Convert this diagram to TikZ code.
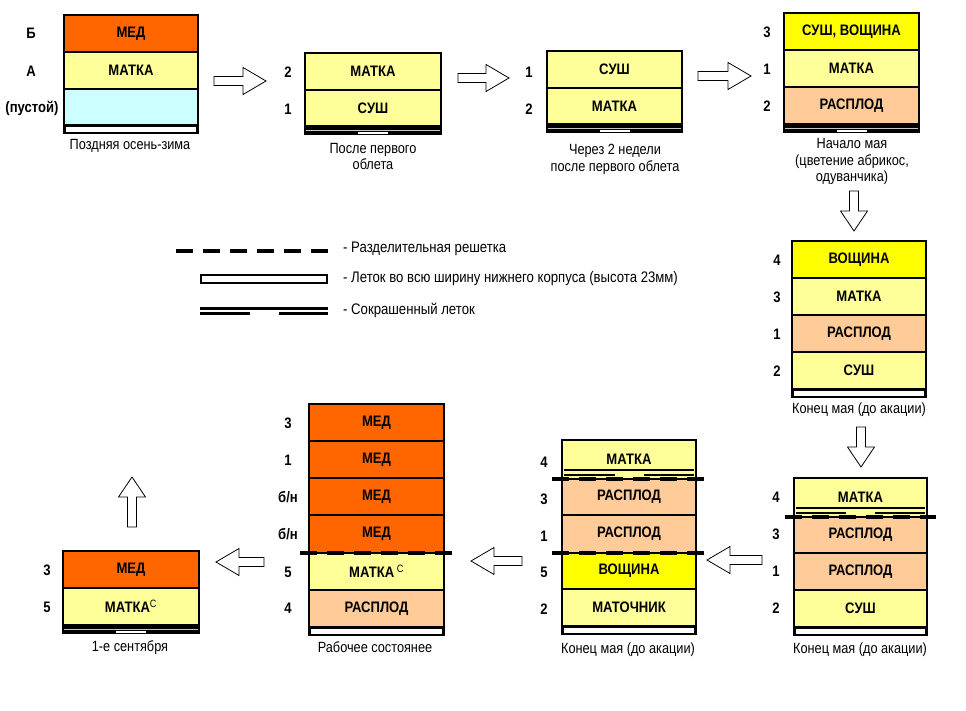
\documentclass[tikz,border=0pt]{standalone}
\usepackage{fontspec}
\setmainfont{Liberation Sans}[FakeStretch=0.86]
\definecolor{honey}{HTML}{FF6600}
\definecolor{pale}{HTML}{FFFF99}
\definecolor{emptyc}{HTML}{CCFFFF}
\definecolor{brood}{HTML}{FFCC99}
\definecolor{wax}{HTML}{FFFF00}
\tikzset{
  cell/.style={draw=black, line width=1.6pt, inner sep=0pt, outer sep=0pt, font=\fontsize{15.2}{16}\selectfont\bfseries},
  lab/.style={font=\fontsize{15.2}{16}\selectfont\bfseries, inner sep=0pt},
  captext/.style={font=\fontsize{14.8}{16.5}\selectfont, align=center, inner sep=0pt},
  legtext/.style={font=\fontsize{15.3}{16}\selectfont, anchor=west, inner sep=0pt},
  gridline/.style={line width=4pt, dash pattern=on 17pt off 10pt},
  fullent/.style={draw=black, fill=white, line width=2.4pt},
  arr/.style={draw=black, fill=white, line width=0.8pt, line join=miter},
}
\newcommand\cellbox[7]{\node[cell,fill=#2,minimum width={#4-#3},minimum height={#6-#5}] (#1) at ({(#3+#4)/2},{(#5+#6)/2}) {#7};}
\newcommand\fullentr[3]{\draw[fullent] (#1+0.4,#3+1.2) rectangle (#2-0.4,#3+7.8);}
\newcommand\shortentr[3]{%
  \fill[black] (#1-0.8,#3) rectangle (#2+0.8,#3+9);
  \draw[gray!45, line width=1pt] (#1+1,#3+4.2) -- (#2-1,#3+4.2);
  \fill[white] ({(#1+#2)/2-15},#3+6) rectangle ({(#1+#2)/2+15},#3+7.8);}
\newcommand\innershort[3]{%
  \draw[line width=2.4pt] (#1+2,#3-9) -- (#2-2,#3-9);
  \draw[line width=2.4pt] (#1+2,#3-4) -- ({(#1+#2)/2-14.5},#3-4);
  \draw[line width=2.4pt] ({(#1+#2)/2+14.5},#3-4) -- (#2-2,#3-4);}
\newcommand\blockarr[5]{%
  \begin{scope}[shift={(#1,#2)},rotate=#3]
  \draw[arr] ({-#4/2},-4.5) -- ({#4/2-#5},-4.5) -- ({#4/2-#5},-13.5) -- ({#4/2},0)
    -- ({#4/2-#5},13.5) -- ({#4/2-#5},4.5) -- ({-#4/2},4.5) -- cycle;
  \end{scope}}
\begin{document}
\begin{tikzpicture}[x=1pt,y=-1pt]
\useasboundingbox (0,0) rectangle (966,711);
\fill[white] (0,0) rectangle (966,711);

% ---------- Stack 1
\cellbox{s1a}{honey}{64}{198}{15}{52}{МЕД}
\cellbox{s1b}{pale}{64}{198}{52}{89}{МАТКА}
\cellbox{s1c}{emptyc}{64}{198}{89}{125}{}
\fullentr{64}{198}{125}
\node[lab] (s1l1) at (31,33) {Б};
\node[lab] (s1l2) at (31,71) {А};
\node[lab] (s1l3) at (32,108) {(пустой)};
\node[captext] (s1cap) at (130,146) {Поздняя осень-зима};

% ---------- Stack 2
\cellbox{s2a}{pale}{305}{441}{53}{90}{МАТКА}
\cellbox{s2b}{pale}{305}{441}{90}{126}{СУШ}
\shortentr{305}{441}{126}
\node[lab] (s2l1) at (288,72) {2};
\node[lab] (s2l2) at (288,109) {1};
\node[captext] (s2cap) at (373,156.5) {После первого\\облета};

% ---------- Stack 3
\cellbox{s3a}{pale}{547}{682}{51}{88}{СУШ}
\cellbox{s3b}{pale}{547}{682}{88}{124}{МАТКА}
\shortentr{547}{682}{124}
\node[lab] (s3l1) at (529,72) {1};
\node[lab] (s3l2) at (529,109) {2};
\node[captext] (s3cap) at (615,159.5) {Через 2 недели\\после первого облета};

% ---------- Stack 4
\cellbox{s4a}{wax}{784}{919}{13}{50}{СУШ, ВОЩИНА}
\cellbox{s4b}{pale}{784}{919}{50}{87}{МАТКА}
\cellbox{s4c}{brood}{784}{919}{87}{124}{РАСПЛОД}
\shortentr{784}{919}{124}
\node[lab] (s4l1) at (767,32) {3};
\node[lab] (s4l2) at (767,69) {1};
\node[lab] (s4l3) at (767,106) {2};
\node[captext] (s4cap) at (852,161.5) {Начало мая\\(цветение абрикос,\\одуванчика)};

% ---------- Stack 5
\cellbox{s5a}{wax}{792}{926}{241}{278}{ВОЩИНА}
\cellbox{s5b}{pale}{792}{926}{278}{315}{МАТКА}
\cellbox{s5c}{brood}{792}{926}{315}{352}{РАСПЛОД}
\cellbox{s5d}{pale}{792}{926}{352}{389}{СУШ}
\fullentr{792}{926}{389}
\node[lab] (s5l1) at (777,260) {4};
\node[lab] (s5l2) at (777,297) {3};
\node[lab] (s5l3) at (777,334) {1};
\node[lab] (s5l4) at (777,371) {2};
\node[captext] (s5cap) at (859,410) {Конец мая (до акации)};

% ---------- Stack 6
\cellbox{s6a}{pale}{794}{927}{478}{517}{МАТКА}
\cellbox{s6b}{brood}{794}{927}{517}{553}{РАСПЛОД}
\cellbox{s6c}{brood}{794}{927}{553}{590}{РАСПЛОД}
\cellbox{s6d}{pale}{794}{927}{590}{627}{СУШ}
\fullentr{794}{927}{627}
\innershort{794}{927}{517}
\draw[gridline] (785,517) -- (936,517);
\node[lab] (s6l1) at (776,497) {4};
\node[lab] (s6l2) at (776,534) {3};
\node[lab] (s6l3) at (776,571) {1};
\node[lab] (s6l4) at (776,608) {2};
\node[captext] (s6cap) at (860,650) {Конец мая (до акации)};

% ---------- Stack 7
\cellbox{s7a}{pale}{562}{696}{440}{479}{МАТКА}
\cellbox{s7b}{brood}{562}{696}{479}{515}{РАСПЛОД}
\cellbox{s7c}{brood}{562}{696}{515}{553}{РАСПЛОД}
\cellbox{s7d}{wax}{562}{696}{553}{589}{ВОЩИНА}
\cellbox{s7e}{pale}{562}{696}{589}{626}{МАТОЧНИК}
\fullentr{562}{696}{626}
\innershort{562}{696}{479}
\draw[gridline] (552,479) -- (705,479);
\draw[gridline] (552,553) -- (705,553);
\node[lab] (s7l1) at (544,462) {4};
\node[lab] (s7l2) at (544,499) {3};
\node[lab] (s7l3) at (544,536) {1};
\node[lab] (s7l4) at (544,572) {5};
\node[lab] (s7l5) at (544,609) {2};
\node[captext] (s7cap) at (628,650) {Конец мая (до акации)};

% ---------- Stack 8
\cellbox{s8a}{honey}{309}{444}{404}{441}{МЕД}
\cellbox{s8b}{honey}{309}{444}{441}{478}{МЕД}
\cellbox{s8c}{honey}{309}{444}{478}{515}{МЕД}
\cellbox{s8d}{honey}{309}{444}{515}{553}{МЕД}
\cellbox{s8e}{pale}{309}{444}{553}{590}{МАТКА\,\textsuperscript{\mdseries С}}
\cellbox{s8f}{brood}{309}{444}{590}{627}{РАСПЛОД}
\fullentr{309}{444}{627}
\draw[gridline] (300,553) -- (453,553);
\node[lab] (s8l1) at (288,423) {3};
\node[lab] (s8l2) at (288,460) {1};
\node[lab] (s8l3) at (288,497) {б/н};
\node[lab] (s8l4) at (288,534) {б/н};
\node[lab] (s8l5) at (288,572) {5};
\node[lab] (s8l6) at (288,608) {4};
\node[captext] (s8cap) at (375,647) {Рабочее состоянее};

% ---------- Stack 9
\cellbox{s9a}{honey}{63}{199}{551}{588}{МЕД}
\cellbox{s9b}{pale}{63}{199}{588}{625}{МАТКА\textsuperscript{\mdseries С}}
\shortentr{63}{199}{625}
\node[lab] (s9l1) at (47,570) {3};
\node[lab] (s9l2) at (47,607) {5};
\node[captext] (s9cap) at (130,648) {1-е сентября};

% ---------- Legend
\draw[gridline] (176,251) -- (328,251);
\draw[fullent] (201.2,275.2) rectangle (326.8,282.8);
\innershort{198}{330}{317.5}
\node[legtext] (lg1) at (343,249) {- Разделительная решетка};
\node[legtext] (lg2) at (343,279) {- Леток во всю ширину нижнего корпуса (высота 23мм)};
\node[legtext] (lg3) at (343,310) {- Сокрашенный леток};

% ---------- Block arrows
\blockarr{240}{81}{0}{52}{23}
\blockarr{483.5}{78}{0}{51}{23}
\blockarr{724.5}{76}{0}{53}{23}
\blockarr{854}{211}{-90}{40}{20}
\blockarr{861}{447}{-90}{40}{20}
\blockarr{734.5}{560}{180}{55}{23}
\blockarr{496.5}{561}{180}{51}{23}
\blockarr{240}{562}{180}{48}{23}
\blockarr{132}{502}{90}{50}{20}
\end{tikzpicture}
\end{document}
